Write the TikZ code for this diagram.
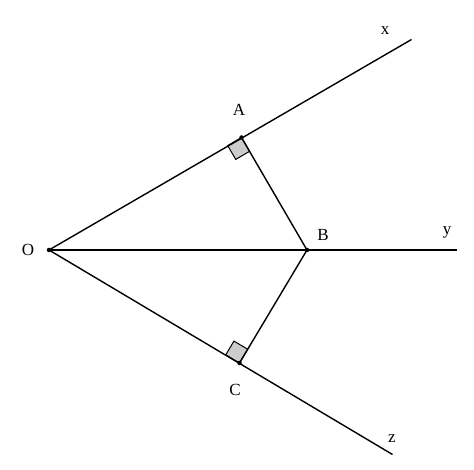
\documentclass[tikz,border=0pt]{standalone}
\usepackage{fontspec}
\setmainfont{Liberation Serif}
\usetikzlibrary{calc}
\begin{document}
\begin{tikzpicture}[x=1pt,y=-1pt,
  ln/.style={line width=1.4pt,black},
  lbl/.style={font=\fontsize{17}{17}\selectfont,inner sep=0pt},
  pt/.style={circle,fill=black,inner sep=0pt,minimum size=4.5pt},
  rmark/.style={fill=black!20,draw=black,line width=1pt}]
\fill[white] (0,0) rectangle (474,470);
\useasboundingbox (0,0) rectangle (474,470);
\coordinate (O) at (49,250);
\coordinate (A) at (241.5,137.5);
\coordinate (B) at (307,250);
\coordinate (C) at (239.5,363);
\coordinate (X) at (411.5,39.5);
\coordinate (Y) at (457,250);
\coordinate (Z) at (392.5,454.5);
% right angle marks
\filldraw[rmark] (A) -- ($(A)!16pt!(O)$) -- ($(A)!16pt!(O) + (A)!16pt!(B) - (A)$) -- ($(A)!16pt!(B)$) -- cycle;
\filldraw[rmark] (C) -- ($(C)!16pt!(O)$) -- ($(C)!16pt!(O) + (C)!16pt!(B) - (C)$) -- ($(C)!16pt!(B)$) -- cycle;
% lines
\draw[ln] (O) -- (X);
\draw[ln] (O) -- (Y);
\draw[ln] (O) -- (Z);
\draw[ln] (A) -- (B) -- (C);
% points
\node[pt] (pO) at (O) {};
\node[pt] (pA) at (A) {};
\node[pt] (pB) at (B) {};
\node[pt] (pC) at (C) {};
% labels
\node[lbl] (lO) at (28,250) {O};
\node[lbl] (lA) at (239,110) {A};
\node[lbl] (lB) at (323,235) {B};
\node[lbl] (lC) at (235,390) {C};
\node[lbl] (lx) at (385,31) {x};
\node[lbl] (ly) at (447,232) {y};
\node[lbl] (lz) at (392,439) {z};
\end{tikzpicture}
\end{document}
